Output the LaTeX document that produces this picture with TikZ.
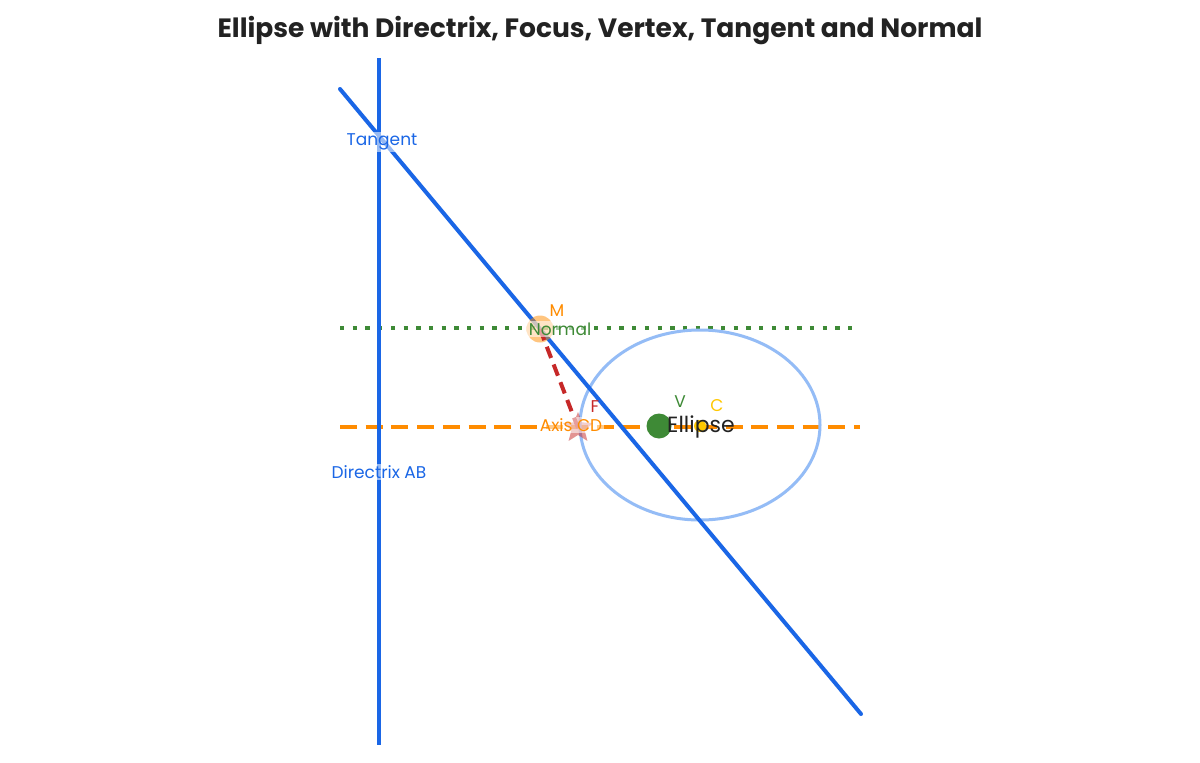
\documentclass[tikz,border=0pt]{standalone}
\usepackage{fontspec}
\setmainfont{Poppins}
\usetikzlibrary{shapes.geometric}
\definecolor{dirblue}{HTML}{1A66E6}
\definecolor{axorange}{HTML}{FF8C00}
\definecolor{nrmgreen}{HTML}{3E8A36}
\definecolor{fred}{HTML}{C62828}
\definecolor{elblue}{HTML}{94BCF6}
\definecolor{cyel}{HTML}{FFC800}
\definecolor{ttl}{HTML}{222222}
\tikzset{
  lbl/.style={fill=white, fill opacity=0.55, text opacity=1, inner sep=1.5pt, font=\fontsize{17}{19}\selectfont},
}
\begin{document}
\begin{tikzpicture}[x=1pt,y=-1pt]
\useasboundingbox[fill=white] (0,0) rectangle (1200,763);
\node[font=\fontsize{26.5}{30}\selectfont\bfseries, text=ttl] (title) at (600,31) {Ellipse with Directrix, Focus, Vertex, Tangent and Normal};
% coordinates
\coordinate (axL) at (340,427);
\coordinate (axR) at (860,427);
\coordinate (nL) at (340,328);
\coordinate (nR) at (860,328);
\coordinate (dT) at (379,58);
\coordinate (dB) at (379,745);
\coordinate (tT) at (340,89);
\coordinate (tB) at (861,714);
% axis and normal
\draw[axorange, line width=4.5pt, dash pattern=on 17pt off 8.7pt] (axL) -- (axR);
\draw[nrmgreen, line width=4pt, dash pattern=on 4.3pt off 8.4pt] (nL) -- (nR);
% ellipse
\node[draw=elblue, line width=3pt, ellipse, minimum width=240pt, minimum height=190pt, inner sep=0pt] (ell) at (700,425) {};
% directrix and tangent
\draw[dirblue, line width=4pt] (dT) -- (dB);
\draw[dirblue, line width=4pt, line cap=round] (tT) -- (tB);
% points
\node[circle, fill=axorange, fill opacity=0.5, minimum size=27pt, inner sep=0pt] (M) at (540,329) {};
\node[star, star points=5, star point ratio=2.3, fill=fred, fill opacity=0.5, minimum size=32pt, inner sep=0pt] (F) at (578,428) {};
\draw[fred, line width=4pt, dash pattern=on 12pt off 7pt] (M.center) -- (F.center);
\node[circle, fill=nrmgreen, minimum size=25pt, inner sep=0pt] (V) at (659,426) {};
\node[circle, fill=cyel, minimum size=12pt, inner sep=0pt] (C) at (700,426) {};
% labels
\node[lbl, text=dirblue] (lTan) at (382,142) {Tangent};
\node[lbl, text=dirblue] (lDir) at (379,472) {Directrix AB};
\node[lbl, text=axorange, fill opacity=0] (lM) at (557,311) {M};
\node[lbl, text=nrmgreen] (lN) at (560,329) {Normal};
\node[lbl, text=fred, fill opacity=0] (lF) at (595,407) {F};
\node[lbl, text=axorange] (lAx) at (571,425) {Axis CD};
\node[lbl, text=nrmgreen, fill opacity=0] (lV) at (680,402) {V};
\node[lbl, text=cyel, fill opacity=0] (lC) at (717,406) {C};
\node[font=\fontsize{22}{24}\selectfont, text=ttl, inner sep=0pt] (lE) at (701,427) {Ellipse};
\end{tikzpicture}
\end{document}
